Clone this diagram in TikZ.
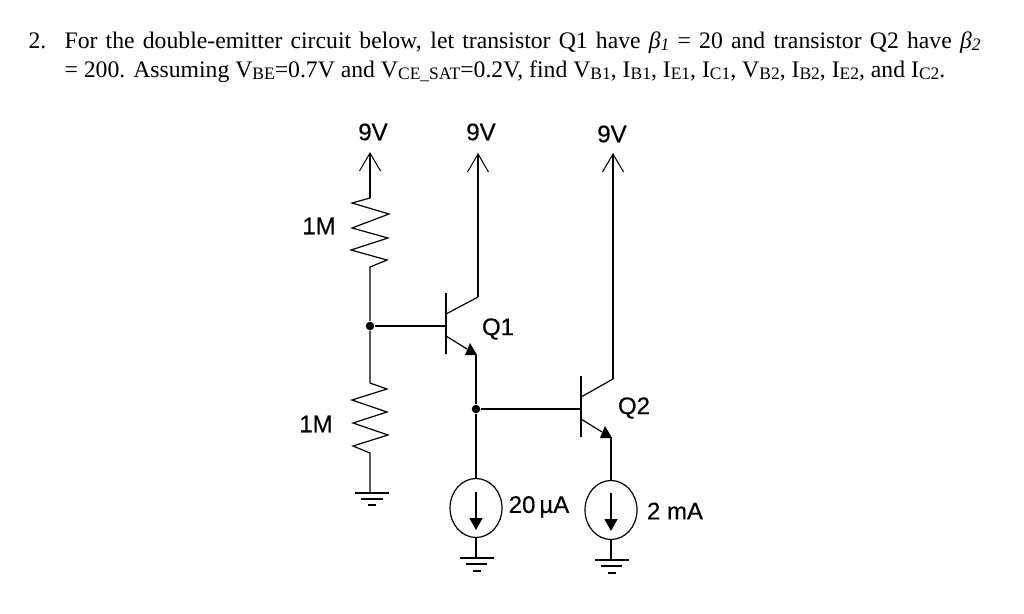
\documentclass[tikz,border=0pt]{standalone}
\usepackage{fontspec}
\setmainfont{Liberation Serif}
\setsansfont[FakeBold=0.4]{Liberation Sans}
\usetikzlibrary{shapes}
\usetikzlibrary{arrows.meta}
\newcommand{\lowtxt}[1]{\raisebox{-0.1em}{\fontsize{17.5}{17.5}\selectfont #1}}
\begin{document}
\begin{tikzpicture}[
    x=1pt,y=-1pt,
    line width=1.2pt,
    font=\sffamily\fontsize{24}{24}\selectfont
]
\tikzset{
    wire/.style = {-,line join=miter},
    railw/.style = {-{Straight Barb[length=18pt,width=21pt,line width=1pt]}},
    dotn/.style = {circle, fill=black, inner sep=0pt, minimum size=8.5pt},
    srcn/.style = {ellipse, draw=black, inner sep=0pt, minimum width=52pt, minimum height=59pt},
    headf/.style = {fill=black, draw=none},
    sinkarrow/.style = {-{Triangle[length=12pt,width=13pt]}},
    textn/.style = {anchor=base west, inner sep=0pt, font=\rmfamily\fontsize{23.7}{23.7}\selectfont}
}
\useasboundingbox (0,0) rectangle (1024,613);
\fill[white] (0,0) rectangle (1024,613);
% question text
\node[textn] at (28,48) (num) {2.};
\node[textn] at (64,48) (lineone) {\makebox[916pt][s]{For the double-emitter circuit below, let transistor Q1 have \textit{β\lowtxt{1}} = 20 and transistor Q2 have \textit{β\lowtxt{2}}}};
\node[textn] at (64,77.5) (linetwo) {= 200. Assuming V\lowtxt{BE}=0.7V and V\lowtxt{CE\_SAT}=0.2V, find V\lowtxt{B1}, I\lowtxt{B1}, I\lowtxt{E1}, I\lowtxt{C1}, V\lowtxt{B2}, I\lowtxt{B2}, I\lowtxt{E2}, and I\lowtxt{C2}.};
% labels
\node at (373,132) (va) {9V};
\node at (481,132) (vb) {9V};
\node at (612,134) (vc) {9V};
\node at (319,226) (ra) {1M};
\node at (316,424) (rb) {1M};
\node at (498,329) (qa) {Q1};
\node at (634,408) (qb) {Q2};
\node at (539,507) (ia) {20\,µA};
\node at (675,511) (ib) {2 mA};
% junctions and sources
\node[dotn] at (370,326) (ja) {};
\node[dotn] at (476,409) (jb) {};
\node[srcn] at (476,508) (sa) {};
\node[srcn] at (611,510) (sb) {};
% free ends
\coordinate (taila) at (370,198);
\coordinate (tipa) at (370,152);
\coordinate (tipb) at (478,153);
\coordinate (tipc) at (613,153);
\coordinate (ra1) at (370,267);
\coordinate (rb0) at (370,383);
\coordinate (rb1) at (370,453);
\coordinate (gnda) at (370,493);
\coordinate (gndb) at (476,558);
\coordinate (gndc) at (611,560);
\coordinate (basea) at (446,326);
\coordinate (baseb) at (581,409);
\coordinate (cola) at (478,297);
\coordinate (colb) at (613,379);
\coordinate (ema) at (476,354);
\coordinate (emb) at (611,437);
% supply wires
\draw[railw] (taila) -- (tipa);
\draw[railw] (cola) -- (tipb);
\draw[railw] (colb) -- (tipc);
% resistors
\draw[wire] (taila) -- (352,203) -- (389,214) -- (352,228) -- (388,238) -- (351,250) -- (387,260) -- (ra1) -- (ja);
\draw[wire] (ja) -- (rb0) -- (387,389) -- (352,400) -- (387,412) -- (353,423) -- (388,435) -- (353,446) -- (rb1) -- (gnda);
% transistor Q1
\draw[wire] (ja) -- (basea);
\draw[wire] (446,293) -- (446,354);
\draw[wire] (446,314) -- (cola);
\draw[wire] (446,336) -- (467,349);
\fill[headf] (470,343) -- (477,355) -- (465,355) -- cycle;
\draw[wire] (ema) -- (jb) -- (sa);
% transistor Q2
\draw[wire] (jb) -- (baseb);
\draw[wire] (581,376) -- (581,437);
\draw[wire] (581,397) -- (colb);
\draw[wire] (581,419) -- (602,432);
\fill[headf] (605,426) -- (612,438) -- (600,438) -- cycle;
\draw[wire] (emb) -- (sb);
% source arrows
\draw[sinkarrow] (476,492) -- (476,530);
\draw[sinkarrow] (611,493) -- (611,531);
% grounds
\draw[wire] (sa) -- (gndb);
\draw[wire] (sb) -- (gndc);
\draw[wire] (355,493) -- (389,493);
\draw[wire] (361,499) -- (383,499);
\draw[wire] (368,505) -- (376,505);
\draw[wire] (460,558) -- (494,558);
\draw[wire] (466,564) -- (487,564);
\draw[wire] (473,571) -- (481,571);
\draw[wire] (595,560) -- (629,560);
\draw[wire] (601,566) -- (622,566);
\draw[wire] (608,573) -- (616,573);
\end{tikzpicture}
\end{document}
